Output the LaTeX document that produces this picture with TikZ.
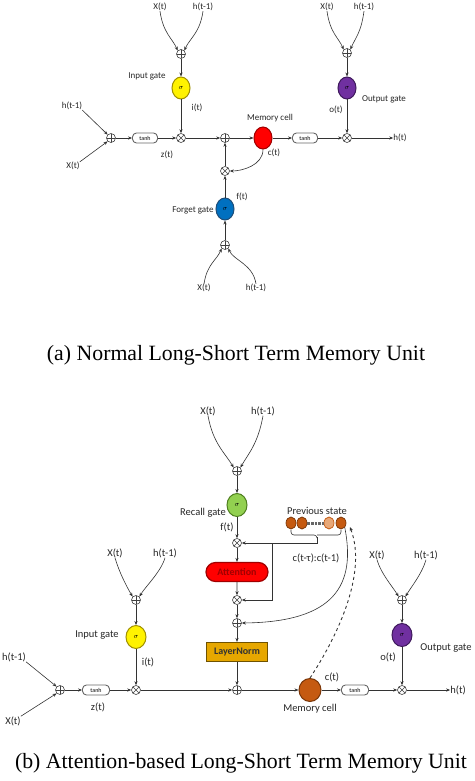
\documentclass[tikz,border=0pt]{standalone}
\usepackage{fontspec}
\setmainfont{Liberation Serif}
\newfontfamily\lblfont{Carlito}
\usetikzlibrary{arrows.meta,shapes.geometric,shapes.misc}
\definecolor{gyellow}{HTML}{FFF200}
\definecolor{gyellowd}{HTML}{A09000}
\definecolor{gred}{HTML}{FF0000}
\definecolor{gredd}{HTML}{A00000}
\definecolor{gblue}{HTML}{0070C0}
\definecolor{gblued}{HTML}{1F4E79}
\definecolor{gpurple}{HTML}{7030A0}
\definecolor{gpurpled}{HTML}{3F1A5C}
\definecolor{ggreen}{HTML}{92D050}
\definecolor{ggreend}{HTML}{4F7F20}
\definecolor{gbrown}{HTML}{C55A11}
\definecolor{gbrownd}{HTML}{7A3608}
\definecolor{glight}{HTML}{E8A878}
\definecolor{ggold}{HTML}{E6A700}
\definecolor{ggoldd}{HTML}{6F5200}
\begin{document}
\begin{tikzpicture}[x=1pt,y=-1pt,
  ln/.style={draw=black!80, line width=0.6pt},
  arr/.style={ln, -{Stealth[length=4pt,width=3.2pt]}},
  sumn/.style={circle, draw=black!75, line width=0.6pt, fill=white, minimum size=9pt, inner sep=0pt,
    path picture={\draw[black!75, line width=0.6pt] (path picture bounding box.north) -- (path picture bounding box.south) (path picture bounding box.west) -- (path picture bounding box.east);}},
  muln/.style={circle, draw=black!75, line width=0.6pt, fill=white, minimum size=9pt, inner sep=0pt,
    path picture={\draw[black!75, line width=0.6pt] (path picture bounding box.north west) -- (path picture bounding box.south east) (path picture bounding box.south west) -- (path picture bounding box.north east);}},
  gate/.style={ellipse, minimum width=18pt, minimum height=22pt, inner sep=0pt, line width=1pt, font=\fontsize{7}{7}\selectfont},
  bgate/.style={gate, minimum width=20pt, minimum height=23pt},
  tanhbox/.style={rounded corners=4pt, draw=black!60, line width=0.9pt, fill=white, minimum width=25pt, minimum height=10pt, inner sep=0pt, font=\lblfont\fontsize{6}{6}\selectfont},
  tl/.style={font=\lblfont\fontsize{9}{10}\selectfont, inner sep=0pt, text=black!85},
  bl/.style={font=\lblfont\fontsize{10.5}{11}\selectfont, inner sep=0pt, text=black!85},
  dotn/.style={ellipse, minimum width=10pt, minimum height=12pt, inner sep=0pt, fill=gbrown, draw=gbrownd, line width=0.7pt},
  capt/.style={font=\fontsize{21.8}{26}\selectfont, inner sep=0pt}
]
\useasboundingbox (0,0) rectangle (474,781);

% ---------------- (a) ----------------
\node[tl] (tX1) at (160,7) {X(t)};
\node[tl] (th1) at (203,7) {h(t-1)};
\node[sumn] (is1) at (181,54) {};
\node[gate, fill=gyellow, draw=gyellowd] (ig) at (181,88) {$\sigma$};
\node[tl] (igl) at (147,76) {Input gate};
\node[tl] (itl) at (197,108) {i(t)};
\node[muln] (im) at (181,138) {};

\node[tl] (lh) at (72,106) {h(t-1)};
\node[tl] (lX) at (73,166) {X(t)};
\node[sumn] (ls) at (111,138) {};
\node[tanhbox] (t1) at (145,138) {tanh};
\node[tl] (zt) at (167,155) {z(t)};

\node[sumn] (cs) at (225,138) {};
\node[gate, fill=gred, draw=gredd] (mc) at (263,138) {};
\node[tl] (mcl) at (270,118) {Memory cell};
\node[tl] (ctl) at (274,153) {c(t)};
\node[tanhbox] (t2) at (305,138) {tanh};
\node[muln] (om) at (347,138) {};
\node[tl] (ht) at (400,138) {h(t)};

\node[tl] (oX) at (327,7) {X(t)};
\node[tl] (oh) at (364,7) {h(t-1)};
\node[sumn] (os) at (347,53) {};
\node[gate, fill=gpurple, draw=gpurpled] (og) at (347,88) {$\sigma$};
\node[tl] (ogl) at (384,99) {Output gate};
\node[tl] (otl) at (336,110) {o(t)};

\node[muln] (fm) at (225,171) {};
\node[gate, fill=gblue, draw=gblued] (fg) at (225,209) {$\sigma$};
\node[tl] (fgl) at (193,210) {Forget gate};
\node[tl] (ftl) at (242,197) {f(t)};
\node[sumn] (fs) at (225,245) {};
\node[tl] (fX) at (204,288) {X(t)};
\node[tl] (fh) at (256,288) {h(t-1)};

\draw[arr] (tX1.south) .. controls +(3,22) and +(-5,-12) .. (is1.north west);
\draw[arr] (th1.south) .. controls +(-3,22) and +(5,-12) .. (is1.north east);
\draw[arr] (is1) -- (ig);
\draw[arr] (ig) -- (im);
\draw[arr] (lh.south east) -- (ls.north west);
\draw[arr] (lX.north east) -- (ls.south west);
\draw[arr] (ls) -- (t1);
\draw[arr] (t1) -- (im);
\draw[arr] (im) -- (cs);
\draw[arr] (cs) -- (mc);
\draw[arr] (mc) -- (t2);
\draw[arr] (t2) -- (om);
\draw[arr] (om) -- (ht);
\draw[arr] (oX.south) .. controls +(3,22) and +(-5,-12) .. (os.north west);
\draw[arr] (oh.south) .. controls +(-3,22) and +(5,-12) .. (os.north east);
\draw[arr] (os) -- (og);
\draw[arr] (og) -- (om);
\draw[arr] (fX.north) .. controls +(3,-20) and +(-5,12) .. (fs.south west);
\draw[arr] (fh.north) .. controls +(-3,-20) and +(5,12) .. (fs.south east);
\draw[arr] (fs) -- (fg);
\draw[arr] (fg) -- (fm);
\draw[arr] (fm) -- (cs);
\draw[arr] (mc.south) .. controls +(0,16) and +(12,0) .. (fm.east);

\node[capt] (capa) at (236,355) {(a) Normal Long-Short Term Memory Unit};

% ---------------- (b) ----------------
\node[bl] (rX) at (208,411) {X(t)};
\node[bl] (rh) at (263,411) {h(t-1)};
\node[sumn] (rs) at (237,471) {};
\node[bgate, fill=ggreen, draw=ggreend] (rg) at (237,505) {$\sigma$};
\node[bl] (rgl) at (203,513) {Recall gate};
\node[bl] (rtl) at (227,527) {f(t)};
\node[muln] (rm) at (237,543) {};
\node[rounded rectangle, fill=gred, draw=gredd, line width=1.2pt, minimum width=62pt, minimum height=19pt, inner sep=0pt, text=gredd, font=\lblfont\bfseries\fontsize{10}{10}\selectfont] (att) at (237,572) {Attention};
\node[muln] (am) at (237,600) {};
\node[sumn] (ps) at (237,623) {};
\node[rectangle, fill=ggold, draw=ggoldd, line width=1.2pt, minimum width=61pt, minimum height=19pt, inner sep=0pt, text=black!80, font=\lblfont\bfseries\fontsize{10}{10}\selectfont] (lnb) at (237,652) {LayerNorm};
\node[sumn] (bs) at (237,690) {};

\node[bl] (psl) at (317,511) {Previous state};
\node[dotn] (d1) at (291,523) {};
\node[dotn] (d2) at (302,523) {};
\node[dotn, fill=glight, draw=gbrown] (d3) at (329,523) {};
\node[dotn] (d4) at (341,523) {};
\draw[black!60, line width=3pt, dash pattern=on 2.5pt off 1.2pt] (d2.east) -- (d3.west);
\draw[ln, rounded corners=3pt] (291,530) |- (317,535) -- (317,538);
\draw[ln, rounded corners=3pt] (341,530) |- (317,535);
\coordinate (bt) at (317,537);
\coordinate (jn) at (272,543);
\node[bl] (cwl) at (316,558) {c(t-τ):c(t-1)};
\draw[arr] (bt) |- (rm.east);
\draw[arr] (jn) |- (am.east);
\draw[arr] (d4.south east) .. controls (356,585) and (335,622) .. (ps.east);

\node[bl] (iX) at (115,553) {X(t)};
\node[bl] (ih) at (165,553) {h(t-1)};
\node[sumn] (is2) at (136,600) {};
\node[bgate, fill=gyellow, draw=gyellowd] (ig2) at (136,637) {$\sigma$};
\node[bl] (ig2l) at (97,635) {Input gate};
\node[bl] (it2) at (148,662) {i(t)};
\node[muln] (im2) at (136,690) {};

\node[bl] (bh) at (14,657) {h(t-1)};
\node[bl] (bX) at (13,721) {X(t)};
\node[sumn] (bls) at (60,690) {};
\node[tanhbox, minimum width=27pt] (bt1) at (96,690) {tanh};
\node[bl] (bzt) at (98,707) {z(t)};

\node[bgate, minimum width=22pt, fill=gbrown, draw=gbrownd] (bmc) at (310,690) {};
\node[bl] (bmcl) at (310,709) {Memory cell};
\node[bl] (bct) at (332,677) {c(t)};
\node[tanhbox, minimum width=27pt] (bt2) at (355,690) {tanh};
\node[muln] (bom) at (402,690) {};
\node[bl] (bht) at (458,690) {h(t)};

\node[bl] (oX2) at (377,555) {X(t)};
\node[bl] (oh2) at (426,555) {h(t-1)};
\node[sumn] (os2) at (402,600) {};
\node[bgate, fill=gpurple, draw=gpurpled] (og2) at (402,635) {$\sigma$};
\node[bl] (og2l) at (446,648) {Output gate};
\node[bl] (ot2) at (388,657) {o(t)};

\coordinate (dtip) at (350,527);
\draw[ln, dashed, line width=0.9pt, -{Stealth[length=4pt,width=3.2pt]}] (bmc.north) .. controls (335,640) and (368,575) .. (dtip);

\draw[arr] (rX.south) .. controls +(5,28) and +(-8,-14) .. (rs.north west);
\draw[arr] (rh.south) .. controls +(-5,28) and +(8,-14) .. (rs.north east);
\draw[arr] (rs) -- (rg);
\draw[arr] (rg) -- (rm);
\draw[arr] (rm) -- (att);
\draw[arr] (att) -- (am);
\draw[arr] (am) -- (ps);
\draw[arr] (ps) -- (lnb);
\draw[arr] (lnb) -- (bs);

\draw[arr] (iX.south) .. controls +(4,14) and +(-6,-10) .. (is2.north west);
\draw[arr] (ih.south) .. controls +(-4,14) and +(6,-10) .. (is2.north east);
\draw[arr] (is2) -- (ig2);
\draw[arr] (ig2) -- (im2);

\draw[arr] (bh.south east) -- (bls.north west);
\draw[arr] (bX.north east) -- (bls.south west);
\draw[arr] (bls) -- (bt1);
\draw[arr] (bt1) -- (im2);
\draw[arr] (im2) -- (bs);
\draw[arr] (bs) -- (bmc);
\draw[arr] (bmc) -- (bt2);
\draw[arr] (bt2) -- (bom);
\draw[arr] (bom) -- (bht);

\draw[arr] (oX2.south) .. controls +(4,14) and +(-6,-10) .. (os2.north west);
\draw[arr] (oh2.south) .. controls +(-4,14) and +(6,-10) .. (os2.north east);
\draw[arr] (os2) -- (og2);
\draw[arr] (og2) -- (bom);

\node[capt] (capb) at (241,763) {(b) Attention-based Long-Short Term Memory Unit};
\end{tikzpicture}
\end{document}
